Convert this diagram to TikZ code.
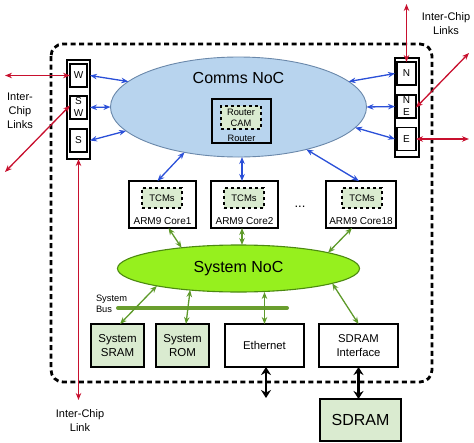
\documentclass[tikz,border=0pt]{standalone}
\usepackage{fontspec}
\setmainfont{Liberation Sans}
\usetikzlibrary{arrows.meta,shapes.geometric}
\definecolor{commsfill}{HTML}{B8D4EE}
\definecolor{commsdraw}{HTML}{6A88AA}
\definecolor{sysfill}{HTML}{96F01E}
\definecolor{sysdraw}{HTML}{4C8A10}
\definecolor{lgreen}{HTML}{DAEBD0}
\definecolor{garrow}{HTML}{5E9A2A}
\definecolor{busgreen}{HTML}{6A9E2E}
\definecolor{barrow}{HTML}{2A4FD8}
\definecolor{rarrow}{HTML}{C8102E}
\newcommand{\fsz}[1]{\fontsize{#1}{#1}\selectfont}
\begin{document}
\begin{tikzpicture}[x=1pt,y=-1pt,
  every node/.style={inner sep=0pt, outer sep=0pt},
  colbox/.style={draw, line width=1.4pt, fill=white, minimum width=23pt, minimum height=99pt},
  portbox/.style={draw, line width=1.4pt, fill=white, minimum width=17pt, minimum height=23pt, align=center, font=\fontsize{10}{12}\selectfont},
  corebox/.style={draw, line width=1.4pt, fill=white, minimum width=67pt, minimum height=47pt},
  tcmbox/.style={draw, dashed, line width=1.3pt, fill=lgreen, minimum width=40pt, minimum height=20pt, font=\fsz{9.5}},
  corelabel/.style={font=\fsz{10}},
  membox/.style={draw, line width=1.4pt, minimum width=79pt, minimum height=43pt, align=center, font=\fontsize{11.3}{13.5}\selectfont},
  greenbox/.style={membox, fill=lgreen, minimum width=53pt, font=\fontsize{11.5}{14}\selectfont},
  bluearr/.style={barrow, line width=1.3pt, {Stealth[length=7pt,width=5.5pt]}-{Stealth[length=7pt,width=5.5pt]}},
  redarr/.style={rarrow, line width=1.3pt, {Stealth[length=7pt,width=5.5pt]}-{Stealth[length=7pt,width=5.5pt]}},
  greenarr/.style={garrow, line width=1.3pt, {Stealth[length=7pt,width=5.5pt]}-{Stealth[length=7pt,width=5.5pt]}},
  blackarr/.style={black, line width=2.8pt, {Stealth[length=8pt,width=10pt]}-{Stealth[length=8pt,width=10pt]}},
  linklabel/.style={align=center, font=\fontsize{11}{14}\selectfont}
]
\useasboundingbox (0,0) rectangle (474,442);

% chip border
\draw[line width=2.8pt, dash pattern=on 5pt off 3.5pt, rounded corners=12pt] (51,44) rectangle (432,382);

% Comms NoC
\node[ellipse, draw=commsdraw, line width=0.9pt, fill=commsfill, minimum width=256pt, minimum height=100pt] (comms) at (238.5,107) {};
\node[font=\fsz{16}] (commstext) at (238.5,78) {Comms NoC};
\node[draw, line width=1.6pt, minimum width=59pt, minimum height=44pt] (router) at (241.5,121) {};
\node[draw, dashed, line width=1.3pt, fill=lgreen, minimum width=40pt, minimum height=23pt, align=center, font=\fontsize{9.3}{11}\selectfont] (cam) at (241,117.5) {Router\\CAM};
\node[font=\fsz{9.3}] (routerlabel) at (241.5,138) {Router};

% left ports
\node[colbox] (lcol) at (78.5,109.5) {};
\node[portbox] (W) at (78.5,75.5) {W};
\node[portbox] (SW) at (78.5,107.5) {S\\W};
\node[portbox] (S) at (78.5,140.5) {S};

% right ports
\node[colbox, minimum width=24pt] (rcol) at (407,107.5) {};
\node[portbox, minimum width=19pt] (N) at (406.5,73.5) {N};
\node[portbox, minimum width=19pt] (NE) at (406.5,106.5) {N\\E};
\node[portbox, minimum width=19pt] (E) at (406.5,139) {E};

% cores
\node[corebox] (core1) at (162.5,204.5) {};
\node[corebox] (core2) at (244.5,204.5) {};
\node[corebox, minimum width=70pt] (core18) at (361,204.5) {};
\node[tcmbox] (tcm1) at (162,198) {TCMs};
\node[tcmbox] (tcm2) at (244,198) {TCMs};
\node[tcmbox] (tcm18) at (362,198) {TCMs};
\node[corelabel] (cl1) at (162.5,221) {ARM9 Core1};
\node[corelabel] (cl2) at (244.5,221) {ARM9 Core2};
\node[corelabel] (cl18) at (361,221) {ARM9 Core18};
\node[font=\fsz{13}] (dots) at (300,207) {...};

% System NoC
\node[ellipse, draw=sysdraw, line width=1.1pt, fill=sysfill, minimum width=242pt, minimum height=47pt] (sysnoc) at (238.5,268.5) {};
\node[font=\fsz{16}] (systext) at (238.5,269) {System NoC};

% memory boxes
\node[greenbox] (sram) at (117.5,345.5) {System\\SRAM};
\node[greenbox] (rom) at (182.5,345.5) {System\\ROM};
\node[membox] (eth) at (264.5,345.5) {Ethernet};
\node[membox] (sdi) at (358.5,345.5) {SDRAM\\Interface};
\node[draw, line width=1.4pt, fill=lgreen, minimum width=81pt, minimum height=42pt, font=\fsz{16}] (sdram) at (360.5,420) {SDRAM};

% system bus
\coordinate (busL) at (118,308);
\coordinate (busR) at (287,308);
\draw[busgreen, line width=4pt, line cap=round] (busL) -- (busR);
\node[anchor=west, align=left, font=\fontsize{9.3}{10.5}\selectfont] (buslabel) at (96,304) {System\\Bus};

% blue arrows
\draw[bluearr] (lcol.east |- W) -- (comms.167);
\draw[bluearr] (lcol.east |- SW) -- (comms.west);
\draw[bluearr] (lcol.east |- S) -- (comms.192);
\draw[bluearr] (rcol.west |- N) -- (comms.13);
\draw[bluearr] (rcol.west |- NE) -- (comms.east);
\draw[bluearr] (rcol.west |- E) -- (comms.-10);
\draw[bluearr] (comms.220) -- ([xshift=-5pt]core1.north);
\draw[bluearr] ([xshift=-2.5pt]core2.north |- comms.south) -- ([xshift=-2.5pt]core2.north);
\draw[bluearr] (comms.-32) -- ([xshift=-2pt]core18.north);

% green arrows
\draw[greenarr] ([xshift=6pt]core1.south) -- (sysnoc.160);
\draw[greenarr] ([xshift=-2.5pt]core2.south) -- ([xshift=-2.5pt]core2.south |- sysnoc.north);
\draw[greenarr] ([xshift=-9pt]core18.south) -- (sysnoc.10);
\draw[greenarr] ([xshift=2.5pt]sram.north) -- (sysnoc.192.5);
\draw[greenarr] ([xshift=3.5pt]rom.north) -- (sysnoc.204.5);
\draw[greenarr] (eth.north) -- (eth.north |- sysnoc.south);
\draw[greenarr] (sdi.north) -- (sysnoc.-9);

% red arrows
\coordinate (wl) at (5,75.5);
\coordinate (swl) at (5,172);
\coordinate (sl) at (78.5,400);
\coordinate (nl) at (406.5,4);
\coordinate (nel) at (469,53);
\coordinate (el) at (469,139);
\draw[redarr] (wl) -- (W.west);
\draw[redarr] (swl) -- ([yshift=2pt]SW.west);
\draw[redarr] (lcol.south) -- (sl);
\draw[redarr] (nl) -- (N.north);
\draw[redarr] ([yshift=-1pt]NE.east) -- (nel);
\draw[redarr] (E.east) -- (el);

% black arrows
\coordinate (ethl) at (264.5,398);
\draw[blackarr] ([xshift=1.5pt]eth.south) -- ([xshift=1.5pt]ethl);
\draw[blackarr] (sdi.south) -- (sdi.south |- sdram.north);

% link labels
\node[linklabel] (lbl1) at (20,111) {Inter-\\Chip\\Links};
\node[linklabel] (lbl2) at (446,24) {Inter-Chip\\Links};
\node[linklabel] (lbl3) at (80,420.5) {Inter-Chip\\Link};
\end{tikzpicture}
\end{document}
